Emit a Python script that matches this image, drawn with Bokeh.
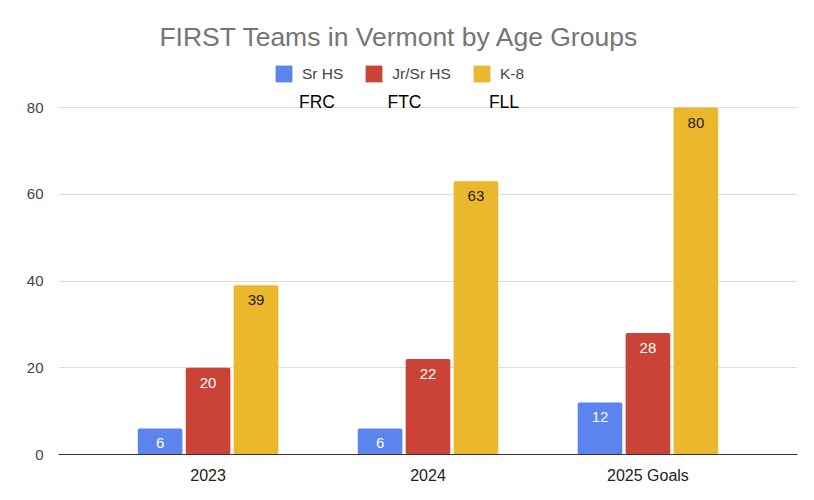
from bokeh.plotting import figure
from bokeh.models import Range1d, FixedTicker, Label, Legend, LegendItem
from bokeh.core.properties import value
from bokeh.embed import file_html
from bokeh.resources import INLINE

# ---- data ----
categories = ["2023", "2024", "2025 Goals"]
series_names = ["Sr HS", "Jr/Sr HS", "K-8"]
program_names = ["FRC", "FTC", "FLL"]
sr_hs = [6, 6, 12]
jr_sr_hs = [20, 22, 28]
k8 = [39, 63, 80]
y_ticks = [0, 20, 40, 60, 80]
title_text = "FIRST Teams in Vermont by Age Groups"

# ---- style ----
FONT = "Liberation Sans"
colors = ["#5b84ee", "#cb4336", "#ebb82d"]
label_colors = ["#ffffff", "#ffffff", "#222222"]
offsets = [-0.218, 0.0, 0.218]
bar_w = 0.203

# frame covers the whole top; axis max (80) sits 107px below the top
FRAME_H = 454
TOP_PX = 107
y_end = max(y_ticks) * FRAME_H / (FRAME_H - TOP_PX)

p = figure(width=814, height=500,
           x_range=Range1d(-0.18, 3.18), y_range=Range1d(0, y_end),
           output_backend="svg", toolbar_location=None,
           min_border_left=58, min_border_right=17,
           min_border_top=0, min_border_bottom=46)
p.outline_line_color = None
p.background_fill_color = "white"
p.border_fill_color = "white"

renderers = []
for i, vals in enumerate([sr_hs, jr_sr_hs, k8]):
    xs = [k + 0.5 + offsets[i] for k in range(len(categories))]
    r = p.vbar(x=xs, top=vals, width=bar_w, fill_color=colors[i],
               line_color=None, border_radius=2)
    renderers.append(r)
    p.text(x=xs, y=vals, text=[str(v) for v in vals],
           text_align="center", text_baseline="middle", y_offset=15,
           text_font=value(FONT), text_font_size="15px",
           text_color=label_colors[i])

# axes
p.xaxis.ticker = FixedTicker(ticks=[k + 0.5 for k in range(len(categories))])
p.xaxis.major_label_overrides = {k + 0.5: c for k, c in enumerate(categories)}
p.xaxis.major_tick_line_color = None
p.xaxis.minor_tick_line_color = None
p.xaxis.axis_line_color = "#333333"
p.xaxis.major_label_standoff = 6
p.xaxis.major_label_text_font = FONT
p.xaxis.major_label_text_font_size = "16px"
p.xaxis.major_label_text_color = "#222222"

p.yaxis.ticker = FixedTicker(ticks=y_ticks)
p.yaxis.axis_line_color = None
p.yaxis.major_tick_line_color = None
p.yaxis.minor_tick_line_color = None
p.yaxis.major_label_standoff = 9
p.yaxis.major_label_text_font = FONT
p.yaxis.major_label_text_font_size = "15px"
p.yaxis.major_label_text_color = "#444444"

p.xgrid.grid_line_color = None
p.ygrid.grid_line_color = "#dddddd"
p.ygrid.ticker = FixedTicker(ticks=y_ticks)

# title
p.add_layout(Label(x=341, y=FRAME_H - 36, x_units="screen", y_units="screen",
                   text=title_text, text_align="center", text_baseline="middle",
                   text_font=FONT, text_font_size="26.5px", text_color="#757575"))

# legend
legend = Legend(items=[LegendItem(label=n, renderers=[r]) for n, r in zip(series_names, renderers)],
                orientation="horizontal", location=(215, FRAME_H - 84),
                glyph_width=21, glyph_height=21, label_standoff=8, spacing=20,
                padding=0, margin=0, border_line_color=None, background_fill_alpha=0,
                label_text_font=FONT, label_text_font_size="15.5px",
                label_text_color="#444444", label_height=21)
p.add_layout(legend)

# program labels
for name, xpos in zip(program_names, [258.5, 346, 445.5]):
    p.add_layout(Label(x=xpos, y=FRAME_H - 101, x_units="screen", y_units="screen",
                       text=name, text_align="center", text_baseline="middle",
                       text_font=FONT, text_font_size="17.5px", text_color="#000000"))

open("out.html", "w").write(file_html(p, INLINE))
